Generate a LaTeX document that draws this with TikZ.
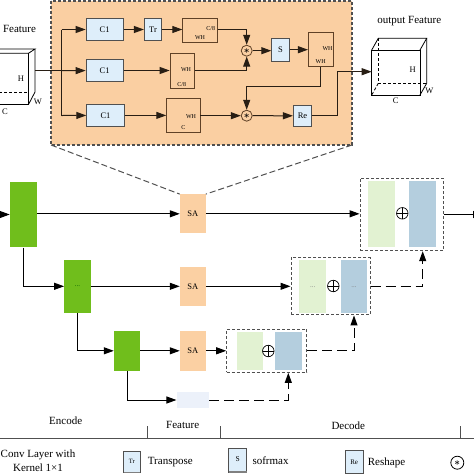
\documentclass[tikz,border=0pt]{standalone}
\usepackage{fontspec}
\setmainfont{Liberation Serif}
\usetikzlibrary{arrows.meta}
\definecolor{orbg}{RGB}{250,207,162}
\definecolor{saorg}{RGB}{251,208,163}
\definecolor{grn}{RGB}{112,190,28}
\definecolor{lgrn}{RGB}{226,242,210}
\definecolor{blu}{RGB}{180,206,222}
\definecolor{lblue}{RGB}{222,238,250}
\definecolor{pale}{RGB}{236,241,250}
\definecolor{brn}{RGB}{95,65,38}
\definecolor{dk}{RGB}{40,30,20}
\definecolor{dgray}{RGB}{80,80,80}
\tikzset{
  cbox/.style={draw=dgray, fill=lblue, line width=0.8pt, inner sep=0pt, font=\fontsize{8.5}{8.5}\selectfont},
  mbox/.style={draw=brn, fill=orbg, line width=0.8pt, inner sep=0pt},
  tinyt/.style={inner sep=0pt, font=\fontsize{6}{6}\selectfont},
  sabox/.style={fill=saorg, inner sep=0pt, font=\fontsize{8.5}{8.5}\selectfont},
  gbox/.style={fill=grn, inner sep=0pt},
  dbox/.style={draw=dgray, dash pattern=on 3pt off 2pt, line width=1pt, inner sep=0pt},
  arr/.style={-{Triangle[length=10pt,width=7pt]}, line width=1pt},
  conn/.style={line width=1pt},
  dconn/.style={dash pattern=on 10pt off 5pt, line width=1pt},
  ast/.style={circle, draw=brn, fill=orbg, line width=0.8pt, minimum size=11pt, inner sep=0pt, font=\fontsize{10}{10}\selectfont\boldmath},
  opl/.style={circle, draw=black, line width=0.7pt, minimum size=11.5pt, inner sep=0pt,
    path picture={\draw[line width=0.7pt] (path picture bounding box.north) -- (path picture bounding box.south)
      (path picture bounding box.west) -- (path picture bounding box.east);}},
  lab/.style={inner sep=0pt, font=\fontsize{11}{11}\selectfont},
  cubel/.style={inner sep=0pt, font=\fontsize{8.5}{8.5}\selectfont},
  legbox/.style={draw=dgray, fill=lblue, line width=0.7pt, inner sep=0pt},
}
\begin{document}
\begin{tikzpicture}[x=1pt,y=-1pt]
\useasboundingbox (0,0) rectangle (474,474);
\clip (0,0) rectangle (474,474);

% ---------- attention module (orange box) ----------
\draw[fill=orbg, draw=dgray, dash pattern=on 3pt off 2pt, line width=1.1pt] (51,1) rectangle (352,145);
\coordinate (obl) at (51,145);
\coordinate (obr) at (352,145);

% input cube
\draw[line width=0.8pt] (-1,49) -- (35,49) -- (28.5,53.3) -- (-1,53.3);
\draw[line width=0.8pt] (28.5,53.3) -- (28.5,104.5) -- (-1,104.5);
\draw[line width=0.8pt] (35,49) -- (35,92) -- (28.5,104.5);
\draw[line width=0.8pt, dash pattern=on 3pt off 2pt] (-1,92) -- (28.5,92);
\node[lab] (infeat) at (19.5,29) {Feature};
\node[cubel] (inH) at (21,79) {H};
\node[cubel] (inW) at (38,101.5) {W};
\node[cubel] (inC) at (5,112) {C};
\coordinate (cubeR) at (35,70.7);

% output cube
\draw[line width=0.8pt] (371.7,50) rectangle (420,95);
\draw[line width=0.8pt] (371.7,50) -- (378.3,38.3) -- (426.7,38.3) -- (420,50);
\draw[line width=0.8pt] (426.7,38.3) -- (426.7,83.3) -- (420,95);
\draw[line width=0.8pt, dash pattern=on 3pt off 2pt] (378.3,38.3) -- (378.3,83.3) -- (426.7,83.3);
\draw[line width=0.8pt, dash pattern=on 3pt off 2pt] (378.3,83.3) -- (371.7,95);
\node[lab] (outfeat) at (409.3,21) {output Feature};
\node[cubel] (outH) at (412.7,69.3) {H};
\node[cubel] (outW) at (429.5,90.7) {W};
\node[cubel] (outC) at (395.7,101) {C};
\coordinate (outL) at (371.7,71.7);

% branch
\coordinate (br) at (61.7,70.7);
\coordinate (brT) at (61.7,29.5);
\coordinate (brB) at (61.7,115.5);

\node[cbox, minimum width=37.3pt, minimum height=22.4pt] (c1a) at (104.7,29.5) {C1};
\node[cbox, minimum width=17.4pt, minimum height=22.4pt] (tr) at (153,29.5) {Tr};
\node[mbox, minimum width=34.6pt, minimum height=24pt] (m1) at (200,30.3) {};
\node[tinyt] (m1a) at (210.7,28.3) {C/8};
\node[tinyt] (m1b) at (200,37.7) {WH};

\node[cbox, minimum width=37.3pt, minimum height=22.4pt] (c1b) at (104.7,70.5) {C1};
\node[mbox, minimum width=24.3pt, minimum height=35pt] (m2) at (182.2,70.8) {};
\node[tinyt] (m2a) at (186,70) {WH};
\node[tinyt] (m2b) at (181.7,84.3) {C/8};

\node[cbox, minimum width=37.6pt, minimum height=22.7pt] (c1c) at (105.5,115.4) {C1};
\node[mbox, minimum width=33.3pt, minimum height=34pt] (m3) at (183.3,115.3) {};
\node[tinyt] (m3a) at (191,116.7) {WH};
\node[tinyt] (m3b) at (183.3,127.7) {C};

\node[ast] (st1) at (246.7,50.7) {$\ast$};
\node[ast] (st2) at (246.7,115.7) {$\ast$};
\node[cbox, minimum width=17.6pt, minimum height=22.7pt] (sbox) at (280.5,49.7) {S};
\node[mbox, minimum width=24.7pt, minimum height=34.4pt] (m4) at (320.7,49.5) {};
\node[tinyt] (m4a) at (327.5,49) {WH};
\node[tinyt] (m4b) at (320.7,61.7) {WH};
\node[cbox, minimum width=18.4pt, minimum height=21.7pt] (re) at (302.5,115.8) {Re};
\coordinate (turn) at (320.7,86);

\begin{scope}[draw=dk, color=dk]
\draw[conn] (cubeR) -- (br);
\draw[conn] (brT) -- (brB);
\draw[arr] (brT) -- (c1a);
\draw[arr] (br) -- (c1b);
\draw[arr] (brB) -- (c1c);
\draw[arr] (c1a) -- (tr);
\draw[arr] (tr) -- (tr -| m1.west);
\draw[arr] (m1.east |- tr) -| (st1.north);
\draw[arr] (c1b) -- (c1b -| m2.west);
\draw[arr] (m2.east |- c1b) -| (st1.south);
\draw[arr] (c1c) -- (c1c -| m3.west);
\draw[arr] (m3.east |- st2) -- (st2.west);
\draw[arr] (st1) -- (st1 -| sbox.west);
\draw[arr] (sbox) -- (sbox -| m4.west);
\draw[arr] (m4.south) -- (turn) -| (st2.north);
\draw[arr] (st2) -- (re);
\draw[arr] (re.east) -- (337.3,115.8) -- (337.3,71.7) -- (outL);
\end{scope}

% ---------- encoder / decoder ----------
\node[gbox, minimum width=26.7pt, minimum height=65.6pt] (g1) at (23.3,214.5) {};
\node[gbox, minimum width=26.4pt, minimum height=52.7pt, font=\fontsize{7}{7}\selectfont, text=green!35!black] (g2) at (77.5,286.3) {...};
\node[gbox, minimum width=26pt, minimum height=39.7pt] (g3) at (127,350.8) {};

\node[sabox, minimum width=25.7pt, minimum height=39pt] (sa1) at (192.8,213.8) {SA};
\node[sabox, minimum width=25.7pt, minimum height=39.3pt] (sa2) at (192.8,286.3) {SA};
\node[sabox, minimum width=25.7pt, minimum height=39.7pt] (sa3) at (192.8,350.8) {SA};
\node[fill=pale, inner sep=0pt, minimum width=32.3pt, minimum height=16.6pt] (pl) at (192.8,400) {};

% decoder boxes
\node[fill=lgrn, inner sep=0pt, minimum width=26.7pt, minimum height=66.6pt] (lg1) at (381.7,214) {};
\node[fill=blu, inner sep=0pt, minimum width=26.7pt, minimum height=66.6pt] (bl1) at (422.7,214) {};
\node[opl] (p1) at (402.3,213.3) {};
\node[dbox, minimum width=83.3pt, minimum height=72.4pt] (bx1) at (401.7,214.5) {};

\node[fill=lgrn, inner sep=0pt, minimum width=26.7pt, minimum height=53.3pt, font=\fontsize{7}{7}\selectfont, text=gray] (lg2) at (312.7,286.7) {...};
\node[fill=blu, inner sep=0pt, minimum width=26.7pt, minimum height=53.3pt, font=\fontsize{7}{7}\selectfont, text=gray] (bl2) at (354,286.7) {...};
\node[opl] (p2) at (333.3,286) {};
\node[dbox, minimum width=79pt, minimum height=57.3pt] (bx2) at (330.5,286.3) {};

\node[fill=lgrn, inner sep=0pt, minimum width=26.6pt, minimum height=38.3pt] (lg3) at (250,350.8) {};
\node[fill=blu, inner sep=0pt, minimum width=26.6pt, minimum height=38.3pt] (bl3) at (288.3,350.8) {};
\node[opl] (p3) at (268.3,351) {};
\node[dbox, minimum width=80pt, minimum height=43.3pt] (bx3) at (266.7,350.7) {};

\coordinate (inL) at (-2,214.5);
\coordinate (outR) at (483,214.5);

% connectors
\draw[arr] (inL) -- (g1.west);
\draw[arr] (g1.east |- sa1) -- (sa1.west);
\draw[arr] (sa1.east) -- (sa1 -| bx1.west);
\draw[arr] (bx1.east) -- (outR);
\draw[arr] (g1.south) |- (g2.west);
\draw[arr] (g2.east |- sa2) -- (sa2.west);
\draw[arr] (sa2.east) -- (sa2 -| bx2.west);
\draw[arr] (g2.south) |- (g3.west);
\draw[arr] (g3.east) -- (sa3.west);
\draw[arr] (sa3.east) -- (sa3 -| bx3.west);
\draw[arr] (g3.south) |- (pl.west);
\draw[arr, dconn] (pl.east) -| (bl3.center |- bx3.south);
\draw[arr, dconn] (bx3.east) -| (bl2.center |- bx2.south);
\draw[arr, dconn] (bx2.east) -| (bl1.center |- bx1.south);

% zoom lines
\draw[draw=dgray, dash pattern=on 6pt off 3pt, line width=1pt] (obl) -- (sa1.north west);
\draw[draw=dgray, dash pattern=on 6pt off 3pt, line width=1pt] (obr) -- (sa1.north east);

% ---------- section labels ----------
\node[lab] (enc) at (65.7,421) {Encode};
\node[lab] (fea) at (182.7,425) {Feature};
\node[lab] (dec) at (348.3,425.7) {Decode};
\draw[draw=dgray, line width=1pt] (-1,438.3) -- (475,438.3);
\draw[draw=dgray, line width=1pt] (147.3,426) -- (147.3,438.3);
\draw[draw=dgray, line width=1pt] (220,426) -- (220,438.3);
\draw[draw=dgray, line width=1pt] (460.7,426) -- (460.7,438.3);

% ---------- legend ----------
\node[lab] (lconv1) at (38,455) {Conv Layer with};
\node[lab] (lconv2) at (38,467.3) {Kernel 1×1};
\draw[legbox] (123.5,451) rectangle (140.3,472.5);
\draw[draw=gray, line width=1.5pt] (123.5,472.5) -- (140.3,472.5);
\node[inner sep=0pt, font=\fontsize{6.5}{6.5}\selectfont] (ltr) at (131.9,461) {Tr};
\node[lab, anchor=west] (ltrt) at (147.7,461.7) {Transpose};
\draw[legbox] (228.7,448.3) rectangle (246.7,472);
\draw[draw=gray, line width=1.5pt] (228.7,472) -- (246.7,472);
\node[inner sep=0pt, font=\fontsize{7.5}{7.5}\selectfont] (ls) at (237.7,459.5) {S};
\node[lab, anchor=west] (lst) at (252.3,460.7) {sofrmax};
\draw[legbox] (345,450.7) rectangle (363.3,473);
\node[inner sep=0pt, font=\fontsize{7}{7}\selectfont] (lre) at (354.2,462) {Re};
\node[lab, anchor=west] (lret) at (367.7,463.3) {Reshape};
\node[circle, draw=black, line width=0.8pt, minimum size=13pt, inner sep=0pt, font=\fontsize{10}{10}\selectfont\boldmath] (last) at (457.3,462.7) {$\ast$};
\end{tikzpicture}
\end{document}
